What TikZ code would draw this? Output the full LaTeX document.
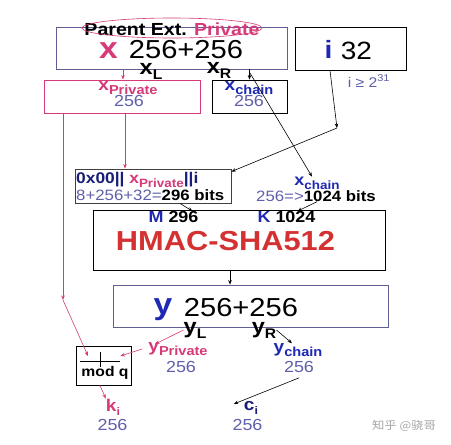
\documentclass[tikz,border=0pt]{standalone}
\usepackage{fontspec}
\setmainfont{Liberation Sans}
\newfontfamily\cjkfont{Noto Sans CJK SC}
\usetikzlibrary{arrows.meta}
\definecolor{pinkx}{RGB}{214,58,120}
\definecolor{graytxt}{RGB}{95,95,170}
\definecolor{navy}{RGB}{25,30,120}
\definecolor{bluei}{RGB}{30,40,180}
\definecolor{redh}{RGB}{212,50,50}
\definecolor{boxblue}{RGB}{95,95,145}
\colorlet{mark-color}{black!35}
\newcommand{\fsz}[1]{\fontsize{#1}{#1}\selectfont}
\newcommand{\lowsub}[2]{\raisebox{-0.45ex}{\fsz{#1}#2}}
\tikzset{
    txt/.style = {inner sep=0pt, xscale=1.12, transform shape},
    frame/.style = {draw, line width=0.9pt, inner sep=0pt},
    arr/.style = {-{Stealth[length=4.5pt,width=3.5pt]}, line width=0.6pt}
}

\begin{document}
\begin{tikzpicture}[x=1pt, y=-1pt]
\useasboundingbox[fill=white] (0,0) rectangle (451,445);

%parent key
\node[frame, draw=boxblue, minimum width=231pt, minimum height=42pt] (parent) at (171.5,48) {};
\node[txt, font=\bfseries\fsz{17.5}] (ptitle) at (172,29) {Parent Ext. \textcolor{pinkx}{Private}};
\draw[pinkx, line width=0.6pt] (172,28) ellipse [x radius=90, y radius=10];
\node[txt, font=\bfseries\fsz{30}, text=pinkx] (xbig) at (108.5,50.5) {x};
\node[txt, font=\fsz{26}] (xdig) at (186,50) {256+256};
\node[txt, font=\bfseries\fsz{21}] (xl) at (151,71) {x\lowsub{14}{L}};
\node[txt, font=\bfseries\fsz{21}] (xr) at (219,70) {x\lowsub{14}{R}};

%index
\node[frame, minimum width=111pt, minimum height=43pt] (ibox) at (350.5,48.5) {};
\node[txt, font=\bfseries\fsz{25}, text=bluei] (ibig) at (328.5,49) {i};
\node[txt, font=\fsz{25}] (idig) at (356.5,51) {32};
\node[txt, font=\fsz{14}, text=graytxt] (icond) at (369,81) {i ≥ 2\textsuperscript{31}};

%left and right halves
\node[frame, draw=pinkx, minimum width=156pt, minimum height=33pt] (xpriv) at (122,96.5) {};
\node[txt, font=\bfseries\fsz{17}, text=pinkx] (xprivl) at (128,88) {x\lowsub{13}{Private}};
\node[txt, font=\fsz{16}, text=graytxt] (xpriv256) at (129,101) {256};
\node[frame, minimum width=75pt, minimum height=33pt] (xchain) at (249.5,96.5) {};
\node[txt, font=\bfseries\fsz{17}, text=bluei] (xchl) at (249,88) {x\lowsub{13}{chain}};
\node[txt, font=\fsz{16}, text=graytxt] (xch256) at (249,101) {256};

%message and key
\node[frame, draw=black!75, minimum width=156pt, minimum height=34pt] (concat) at (153,186) {};
\node[txt, anchor=west, font=\bfseries\fsz{15.5}, text=navy] (catl1) at (76,180) {0x00|| \textcolor{pinkx}{x\lowsub{12}{Private}}||i};
\node[txt, anchor=west, font=\fsz{15}] (catl2) at (76,195) {\textcolor{graytxt}{8+256+32=}\textbf{296 bits}};
\node[txt, font=\bfseries\fsz{16}, text=bluei] (xch2) at (317,183) {x\lowsub{12}{chain}};
\node[txt, font=\fsz{15}] (xch2bits) at (316,196) {\textcolor{graytxt}{256=>}\textbf{1024 bits}};

%hmac
\node[frame, minimum width=292pt, minimum height=60pt] (hmac) at (239,240) {};
\node[txt, font=\bfseries\fsz{16}] (mlab) at (173.5,217) {\textcolor{bluei}{M} 296};
\node[txt, font=\bfseries\fsz{16}] (klab) at (286.5,217) {\textcolor{bluei}{K} 1024};
\node[txt, font=\bfseries\fsz{27.5}, text=redh] (hmacl) at (225.5,241) {HMAC-SHA512};

%output
\node[frame, draw=boxblue, minimum width=275pt, minimum height=42pt] (ybox) at (250.5,306) {};
\node[txt, font=\bfseries\fsz{30}, text=bluei] (ybig) at (163,310) {y};
\node[txt, font=\fsz{26}] (ydig) at (241,308) {256+256};
\node[txt, font=\bfseries\fsz{21}] (yl) at (195,330) {y\lowsub{14}{L}};
\node[txt, font=\bfseries\fsz{21}] (yr) at (264,330) {y\lowsub{14}{R}};
\node[txt, font=\bfseries\fsz{17}, text=pinkx] (ypriv) at (178,349) {y\lowsub{13}{Private}};
\node[txt, font=\fsz{16}, text=graytxt] (ypriv256) at (181,367) {256};
\node[txt, font=\bfseries\fsz{17}, text=bluei] (ych) at (298,350) {y\lowsub{13}{chain}};
\node[txt, font=\fsz{16}, text=graytxt] (ych256) at (299,367) {256};

%mod q
\node[frame, minimum width=55pt, minimum height=39pt] (modq) at (103.5,365.5) {};
\draw[line width=0.6pt] (80,361) -- (120,361);
\draw[line width=0.6pt] (100,352) -- (100,367);
\node[txt, font=\bfseries\fsz{14}] (modql) at (105,373) {mod q};

%child
\node[txt, font=\bfseries\fsz{17}, text=pinkx] (ki) at (113,407) {k\lowsub{11}{i}};
\node[txt, font=\fsz{16}, text=graytxt] (ki256) at (112.5,425) {256};
\node[txt, font=\bfseries\fsz{17}, text=navy] (ci) at (251,408) {c\lowsub{11}{i}};
\node[txt, font=\fsz{16}, text=graytxt] (ci256) at (247.5,425) {256};
\node[txt, font=\cjkfont\fsz{11}, text=mark-color] (mark) at (404,426) {知乎 @骁哥};

%connectors
\coordinate (xrtap) at (250,73);
\coordinate (ibend) at (337,128);
\coordinate (ltap) at (63,300);
\draw[arr, pinkx] ([xshift=1pt]xpriv.north |- parent.south) -- ([xshift=1pt]xpriv.north);
\draw[arr] (xchain.north |- parent.south) -- (xchain.north);
\draw[arr] (xrtap) -- ([xshift=-5pt]xch2.north);
\draw[arr] ([xshift=-20.5pt]ibox.south) -- (ibend);
\draw[arr] (ibend) -- ([yshift=-3pt]concat.north east);
\draw[arr, pinkx] ([xshift=3pt]xpriv.south) -- ([xshift=3pt]xpriv.south |- concat.north);
\draw[arr, pinkx] ([xshift=-59pt]xpriv.south) -- (ltap);
\draw[arr, pinkx] (ltap) -- ([xshift=-15.5pt,yshift=9.5pt]modq.center);
\draw[arr] ([xshift=27pt]concat.south) -- ([xshift=19pt]mlab.north);
\draw[arr] ([xshift=1pt]xch2bits.south) -- ([xshift=11pt]klab.north);
\draw[arr] ([xshift=-9pt]hmac.south) -- ([xshift=-9pt]hmac.south |- ybox.north);
\draw[arr, pinkx] (yl.west) -- ([xshift=7pt,yshift=5pt]ypriv.west);
\draw[arr] (yr.east) -- ([xshift=-6pt]ych.north);
\draw[arr, pinkx] ([xshift=-6pt]ypriv.west) -- ([xshift=-11pt,yshift=9.5pt]modq.east);
\draw[arr] ([yshift=-5pt]ych256.south) -- ([xshift=-10pt,yshift=4pt]ci.west);
\draw[arr, pinkx] ([xshift=-3.5pt]modq.south) -- (ki.north west);
\end{tikzpicture}
\end{document}
